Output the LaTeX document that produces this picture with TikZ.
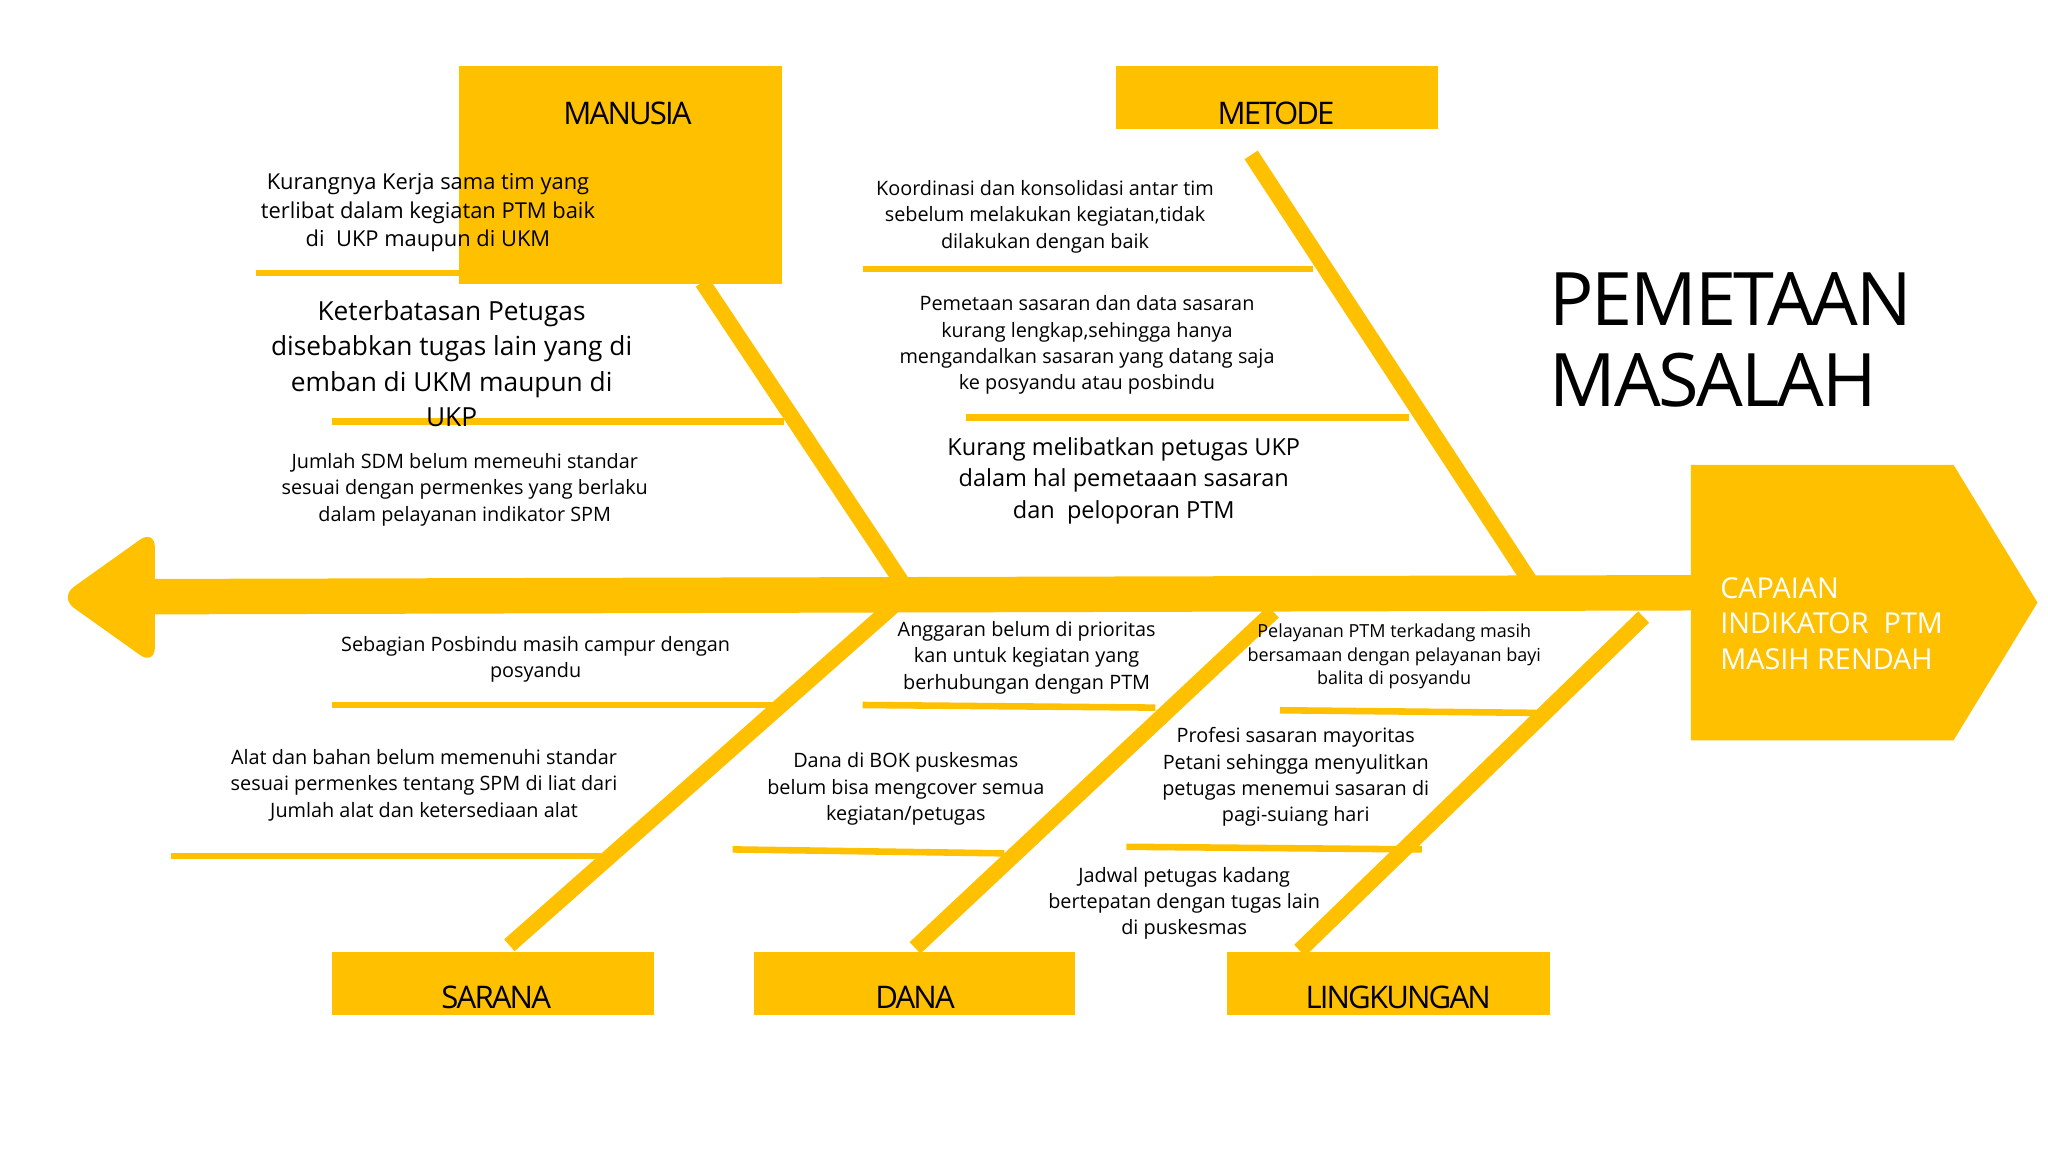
\documentclass[tikz,border=0pt]{standalone}
\usepackage{fontspec}
\setmainfont{Open Sans}
\definecolor{gold}{HTML}{FFC000}
\begin{document}
\begin{tikzpicture}[x=0.02cm,y=-0.02cm,
  bone/.style={gold,line width=0.24cm},
  rib/.style={gold,line width=0.1cm},
  catbox/.style={fill=gold,draw=none},
  cat/.style={font=\fontsize{13.5}{16}\selectfont\addfontfeature{LetterSpace=-6},text=black},
  sm/.style={align=center,font=\fontsize{8.6}{11.4}\selectfont,text=black,inner sep=0},
  md/.style={align=center,font=\fontsize{10.2}{13.7}\selectfont,text=black,inner sep=0},
  lg/.style={align=center,font=\fontsize{11.4}{15.4}\selectfont,text=black,inner sep=0}]
\useasboundingbox (0,0) rectangle (1560,877);
% head box
\fill[gold] (1288,354) -- (1488,354) -- (1552,459) -- (1488,564) -- (1288,564) -- cycle;
\node[anchor=west,align=left,text=white,font=\fontsize{12.5}{15.5}\selectfont,inner sep=0] (head) at (1310,475) {CAPAIAN\\INDIKATOR\ \ PTM\\MASIH RENDAH};
\node[anchor=west,align=left,font=\fontsize{32}{35}\selectfont\addfontfeature{LetterSpace=-3},inner sep=0] (title) at (1180,259) {PEMETAAN\\MASALAH};
% spine
\coordinate (sL) at (110,455);
\coordinate (sR) at (1290,452);
\fill[gold,rounded corners=8] (45,455) -- (118,403) -- (118,507) -- cycle;
\fill[gold] (110,441) -- (1290,438) -- (1290,465) -- (110,468) -- cycle;
% boxes
\fill[catbox] (350,50) rectangle (596,216);
\fill[catbox] (850,50) rectangle (1095,98);
\fill[catbox] (253,725) rectangle (498,773);
\fill[catbox] (574,725) rectangle (819,773);
\fill[catbox] (935,725) rectangle (1181,773);
\node[cat] (manusia) at (478,86) {MANUSIA};
\node[cat] (metode) at (972,86) {METODE};
\node[cat] (sarana) at (378,760) {SARANA};
\node[cat] (dana) at (697,760) {DANA};
\node[cat] (ling) at (1065,760) {LINGKUNGAN};
% bones
\coordinate (b1a) at (535,215); \coordinate (b1b) at (688,445);
\coordinate (b2a) at (953,118); \coordinate (b2b) at (1165,442);
\coordinate (b3a) at (388,720); \coordinate (b3b) at (680,462);
\coordinate (b4a) at (697,722); \coordinate (b4b) at (970,466);
\coordinate (b5a) at (990,724); \coordinate (b5b) at (1252,470);
\draw[bone] (b1a) -- (b1b);
\draw[bone] (b2a) -- (b2b);
\draw[bone] (b3a) -- (b3b);
\draw[bone] (b4a) -- (b4b);
\draw[bone] (b5a) -- (b5b);
% ribs
\draw[rib] (195,208) -- (352,208);
\draw[rib] (253,321) -- (597,321);
\draw[rib] (657,205) -- (1000,205);
\draw[rib] (736,318) -- (1073,318);
\draw[rib] (253,537) -- (590,537);
\draw[rib] (130,652) -- (458,652);
\draw[rib] (657,537) -- (880,539);
\draw[rib] (558,647) -- (765,650);
\draw[rib] (975,541) -- (1170,543);
\draw[rib] (858,645) -- (1083,647);
% texts
\node[sm,font=\fontsize{9.5}{12.2}\selectfont] (t1) at (326,162) {Kurangnya Kerja sama tim yang\\terlibat dalam kegiatan PTM baik\\di\ \ UKP maupun di UKM};
\node[lg] (t2) at (344,277) {Keterbatasan Petugas\\disebabkan tugas lain yang di\\emban di UKM maupun di\\UKP};
\node[sm] (t3) at (354,373) {Jumlah SDM belum memeuhi standar\\sesuai dengan permenkes yang berlaku\\dalam pelayanan indikator SPM};
\node[sm] (t4) at (796,165) {Koordinasi dan konsolidasi antar tim\\sebelum melakukan kegiatan,tidak\\dilakukan dengan baik};
\node[sm] (t5) at (828,263) {Pemetaan sasaran dan data sasaran\\kurang lengkap,sehingga hanya\\mengandalkan sasaran yang datang saja\\ke posyandu atau posbindu};
\node[md] (t6) at (856,366) {Kurang melibatkan petugas UKP\\dalam hal pemetaaan sasaran\\dan\ \ peloporan PTM};
\node[sm] (t7) at (408,502) {Sebagian Posbindu masih campur dengan\\posyandu};
\node[sm] (t8) at (323,598) {Alat dan bahan belum memenuhi standar\\sesuai permenkes tentang SPM di liat dari\\Jumlah alat dan ketersediaan alat};
\node[sm] (t9) at (782,501) {Anggaran belum di prioritas\\kan untuk kegiatan yang\\berhubungan dengan PTM};
\node[sm] (t10) at (690,601) {Dana di BOK puskesmas\\belum bisa mengcover semua\\kegiatan/petugas};
\node[sm,font=\fontsize{7.8}{10.2}\selectfont] (t11) at (1062,500) {Pelayanan PTM terkadang masih\\bersamaan dengan pelayanan bayi\\balita di posyandu};
\node[sm] (t12) at (987,592) {Profesi sasaran mayoritas\\Petani sehingga menyulitkan\\petugas menemui sasaran di\\pagi-suiang hari};
\node[sm] (t13) at (902,688) {Jadwal petugas kadang\\bertepatan dengan tugas lain\\di puskesmas};
\end{tikzpicture}
\end{document}
